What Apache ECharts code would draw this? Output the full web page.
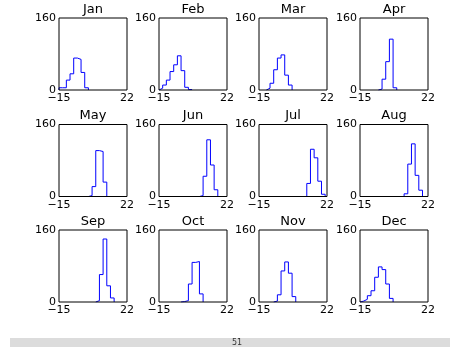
<!DOCTYPE html>
<html><head><meta charset="utf-8">
<script src="https://cdn.jsdelivr.net/npm/echarts@6/dist/echarts.min.js"></script>
<style>html,body{margin:0;padding:0;background:#fff}#c{width:474px;height:355px}</style>
</head><body><div id="c"></div>
<script>
// bin left edges (width 2)
const binEdges = [-15,-13,-11,-9,-7,-5,-3,-1,1,3,5,7,9,11,13,15,17,19,21];
const months = ['Jan','Feb','Mar','Apr','May','Jun','Jul','Aug','Sep','Oct','Nov','Dec'];
const jan = [5,5,22,36,71,68,39,5,0,0,0,0,0,0,0,0,0,0];
const feb = [4,11,22,41,56,76,43,6,1,0,0,0,0,0,0,0,0,0];
const mar = [0,0,4,15,45,71,78,33,11,0,0,0,0,0,0,0,0,0];
const apr = [0,0,0,0,0,2,24,63,113,5,0,0,0,0,0,0,0,0];
const may = [0,0,0,0,0,0,0,0,2,22,102,100,32,0,0,0,0,0];
const jun = [0,0,0,0,0,0,0,0,0,0,0,2,45,126,70,15,0,0];
const jul = [0,0,0,0,0,0,0,0,0,0,0,0,0,29,105,86,34,5];
const aug = [0,0,0,0,0,0,0,0,0,0,0,0,6,72,117,47,14,0];
const sep = [0,0,0,0,0,0,0,0,0,0,3,61,140,36,9,0,0,0];
const oct = [0,0,0,0,0,0,1,3,40,88,90,18,0,0,0,0,0,0];
const nov = [0,0,0,0,2,16,69,89,64,12,0,0,0,0,0,0,0,0];
const dec = [2,6,14,25,55,78,72,40,8,0,0,0,0,0,0,0,0,0];
const monthData = [jan,feb,mar,apr,may,jun,jul,aug,sep,oct,nov,dec];
const xTicks = [-15, 22];
const yTicks = [0, 160];
const pageNumber = '51';

const colLefts = [59,159,259,360];
const rowTops = [18,124.5,230];
const W = 68, H = 72;
const FONT = 'DejaVu Sans';
const minus = v => String(v).replace('-', '\u2212');

const grids=[], xAxes=[], yAxes=[], series=[], graphics=[];
monthData.forEach((vals,i)=>{
  const r = Math.floor(i/4), c = i%4;
  grids.push({left:colLefts[c], top:rowTops[r], width:W, height:H, show:true, borderColor:'#000', borderWidth:1, backgroundColor:'transparent', z:5});
  xAxes.push({gridIndex:i, type:'value', min:xTicks[0], max:xTicks[1],
    axisLine:{show:false}, axisTick:{show:false}, splitLine:{show:false},
    axisLabel:{customValues:xTicks, formatter:minus, color:'#000', fontFamily:FONT, fontSize:11, margin:3}});
  yAxes.push({gridIndex:i, type:'value', min:yTicks[0], max:yTicks[1], interval:yTicks[1]-yTicks[0],
    axisLine:{show:false}, axisTick:{show:false}, splitLine:{show:false},
    axisLabel:{color:'#000', fontFamily:FONT, fontSize:11, margin:3}});
  // trim empty bins so the outline starts/ends on the baseline
  let first = vals.findIndex(v=>v>0);
  let last = vals.length-1; while (last>0 && vals[last]===0) last--;
  const pts = [[binEdges[first],0]];
  for (let k=first;k<=last;k++) pts.push([binEdges[k], vals[k]]);
  pts.push([binEdges[last+1], 0]);
  series.push({type:'line', xAxisIndex:i, yAxisIndex:i, data:pts, step:'end', symbol:'none', z:2,
    lineStyle:{color:'#0000ff', width:1}, animation:false, silent:true});
  graphics.push({type:'text', x:colLefts[c]+W/2, y:rowTops[r]-2, silent:true,
    style:{text:months[i], fontFamily:FONT, fontSize:13, fill:'#000', align:'center', verticalAlign:'bottom'}});
});

graphics.push({type:'rect', shape:{x:10, y:338, width:440, height:9}, style:{fill:'#dcdcdc'}, silent:true, z:-1});
graphics.push({type:'text', x:237, y:342.5, style:{text:pageNumber, fontFamily:FONT, fontSize:8, fill:'#333', align:'center', verticalAlign:'middle'}, silent:true});

const chart = echarts.init(document.getElementById('c'), null, {renderer:'canvas'});
chart.setOption({
  animation:false,
  grid:grids, xAxis:xAxes, yAxis:yAxes, series:series,
  graphic:graphics
});
</script></body></html>
